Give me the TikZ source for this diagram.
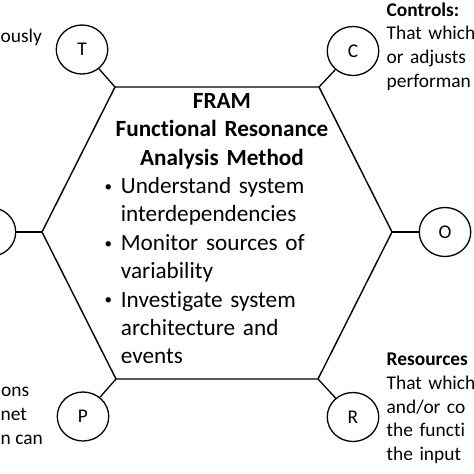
\documentclass[tikz,border=0pt]{standalone}
\usepackage{fontspec}
\setmainfont{Carlito}[Ligatures=NoCommon]
\usetikzlibrary{shapes.geometric}
\newcommand\framcenterfont{\fontsize{23.2}{28.4}\selectfont}
\newcommand\framsidefont{\fontsize{19.4}{23.7}\selectfont}
\newcommand\framdot{\raisebox{2.2pt}{\fontsize{15}{15}\selectfont\textbullet}}
\newcommand\frambul[1]{\makebox[16.2pt][l]{\framdot}#1}
\newcommand\framcont[1]{\hspace*{16.2pt}#1}
\begin{document}
\begin{tikzpicture}[x=1pt,y=-1pt,
  hexline/.style={line width=1.4pt, line join=miter},
  port/.style={ellipse, draw, line width=1.3pt, minimum width=51.5pt, minimum height=49pt, inner sep=0pt, font=\framsidefont},
  link/.style={line width=1.3pt},
  sideblock/.style={inner sep=0pt, font=\framsidefont, align=left, text width=120pt, anchor=base west},
  sidefrag/.style={inner sep=0pt, font=\framsidefont, anchor=base west},
]
\useasboundingbox (0,0) rectangle (474,474);
\clip (0,0) rectangle (474,474);

% hexagon corners
\coordinate (L)  at (42,232);
\coordinate (TL) at (115,87);
\coordinate (TR) at (319,87);
\coordinate (R)  at (392,232);
\coordinate (BR) at (318,379);
\coordinate (BL) at (116,379);
\draw[hexline] (L) -- (TL) -- (TR) -- (R) -- (BR) -- (BL) -- cycle;

% aspect circles
\node[port] (I) at (-10,232) {};
\node[port] (T) at (82,49.5) {T};
\node[port] (C) at (353,51) {C};
\node[port] (O) at (445,232) {O};
\node[port] (P) at (83,416.5) {P};
\node[port] (Rs) at (353,417) {R};

\draw[link] (I) -- (L);
\draw[link] (T) -- (TL);
\draw[link] (C) -- (TR);
\draw[link] (O) -- (R);
\draw[link] (P) -- (BL);
\draw[link] (Rs) -- (BR);

% central text
\node[inner sep=0pt, font=\framcenterfont\bfseries, text width=260pt, align=center, anchor=base] (head) at (222,108.3)
  {FRAM\\Functional Resonance\\Analysis Method};
\node[inner sep=0pt, font=\framcenterfont, text width=260pt, align=left, anchor=base west] (list) at (104.5,193.4)
  {\frambul{Understand system}\\
   \framcont{interdependencies}\\
   \frambul{Monitor sources of}\\
   \framcont{variability}\\
   \frambul{Investigate system}\\
   \framcont{architecture and}\\
   \framcont{events}};

% side texts
\node[sideblock] (ctl) at (386.5,16) {\textbf{Controls:}\\That which\\or adjusts\\performan};
\node[sideblock] (res) at (386.5,365.7) {\textbf{Resources}\\That which\\and/or co\\the functi\\the input};
\node[sidefrag] (tfrag) at (0.5,42.7) {ously};
\node[sidefrag] (pfrag1) at (1,396) {ons};
\node[sidefrag] (pfrag2) at (0.5,420) {net};
\node[sidefrag] (pfrag3) at (0.5,444) {n can};
\end{tikzpicture}
\end{document}
